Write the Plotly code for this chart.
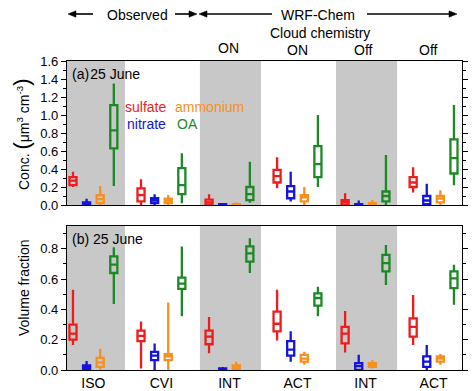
import plotly.graph_objects as go

groups = ["ISO", "CVI", "INT", "ACT", "INT", "ACT"]
species = ["sulfate", "nitrate", "ammonium", "OA"]
colors = {"sulfate": "#ee1c1c", "nitrate": "#1414dc", "ammonium": "#f7901e", "OA": "#1b8a24"}

# each row: [lower whisker, q1, median, q3, upper whisker] for ISO, CVI, INT, ACT, INT, ACT
conc_sulfate = [[0.20, 0.22, 0.27, 0.31, 0.37], [0.0, 0.04, 0.11, 0.185, 0.285], [0.0, 0.0, 0.03, 0.06, 0.12],
                [0.185, 0.25, 0.32, 0.39, 0.53], [0.0, 0.0, 0.03, 0.055, 0.13], [0.14, 0.20, 0.25, 0.31, 0.42]]
conc_nitrate = [[0.0, 0.0, 0.015, 0.03, 0.07], [0.0, 0.02, 0.05, 0.075, 0.12], [0.0, 0.0, 0.005, 0.01, 0.02],
                [0.04, 0.075, 0.15, 0.21, 0.37], [0.0, 0.0, 0.005, 0.01, 0.05], [0.0, 0.01, 0.05, 0.10, 0.235]]
conc_ammonium = [[0.0, 0.02, 0.065, 0.11, 0.21], [0.0, 0.02, 0.05, 0.07, 0.11], [0.0, 0.0, 0.005, 0.01, 0.03],
                 [0.0, 0.04, 0.085, 0.11, 0.20], [0.0, 0.0, 0.01, 0.02, 0.055], [0.0, 0.03, 0.07, 0.10, 0.165]]
conc_OA = [[0.21, 0.63, 0.83, 1.11, 1.35], [0.02, 0.12, 0.22, 0.41, 0.575], [0.025, 0.055, 0.12, 0.20, 0.48],
           [0.20, 0.31, 0.455, 0.655, 1.0], [0.0, 0.04, 0.10, 0.15, 0.555], [0.22, 0.35, 0.52, 0.73, 1.11]]

frac_sulfate = [[0.165, 0.20, 0.24, 0.30, 0.53], [0.01, 0.19, 0.225, 0.26, 0.32], [0.11, 0.17, 0.22, 0.26, 0.35],
                [0.195, 0.255, 0.305, 0.385, 0.53], [0.115, 0.175, 0.24, 0.285, 0.39], [0.165, 0.22, 0.285, 0.34, 0.495]]
frac_nitrate = [[0.0, 0.0, 0.015, 0.03, 0.06], [0.0, 0.065, 0.095, 0.12, 0.175], [0.0, 0.0, 0.005, 0.01, 0.02],
                [0.055, 0.095, 0.135, 0.19, 0.255], [0.0, 0.0, 0.025, 0.045, 0.10], [0.0, 0.02, 0.055, 0.09, 0.165]]
frac_ammonium = [[0.0, 0.02, 0.05, 0.08, 0.14], [0.0, 0.065, 0.09, 0.105, 0.445], [0.0, 0.0, 0.015, 0.03, 0.055],
                 [0.035, 0.055, 0.075, 0.10, 0.12], [0.01, 0.02, 0.035, 0.045, 0.065], [0.035, 0.055, 0.075, 0.09, 0.105]]
frac_OA = [[0.435, 0.64, 0.695, 0.75, 0.81], [0.355, 0.535, 0.57, 0.61, 0.815], [0.64, 0.715, 0.77, 0.815, 0.87],
           [0.355, 0.425, 0.475, 0.505, 0.55], [0.56, 0.65, 0.705, 0.76, 0.825], [0.43, 0.54, 0.605, 0.65, 0.695]]

conc = {"sulfate": conc_sulfate, "nitrate": conc_nitrate, "ammonium": conc_ammonium, "OA": conc_OA}
frac = {"sulfate": frac_sulfate, "nitrate": frac_nitrate, "ammonium": frac_ammonium, "OA": frac_OA}

top_labels = ["ON", "ON", "Off", "Off"]

FONT = "Arial, Liberation Sans, sans-serif"
W, H = 474, 391
L, R, T, B = 67, 12, 61, 21
GAP = 5  # units between groups
XMIN, XMAX = -0.44, 28.59

fig = go.Figure()

for panel, data, xa, ya in [(0, conc, "x", "y"), (1, frac, "x2", "y2")]:
    for si, sp in enumerate(species):
        rows = data[sp]
        xs = [g * GAP + si for g in range(len(groups))]
        fig.add_trace(go.Box(
            x=xs,
            lowerfence=[r[0] for r in rows], q1=[r[1] for r in rows], median=[r[2] for r in rows],
            q3=[r[3] for r in rows], upperfence=[r[4] for r in rows],
            width=0.52, whiskerwidth=0, boxpoints=False,
            line=dict(color=colors[sp], width=2.3), fillcolor="rgba(0,0,0,0)",
            xaxis=xa, yaxis=ya, showlegend=False, hoverinfo="skip",
        ))

shapes = []
for g in (0, 2, 4):
    x0 = max(g * GAP - 0.67, XMIN)
    x1 = g * GAP + 3.82
    for xr, yr in (("x", "y domain"), ("x2", "y2 domain")):
        shapes.append(dict(type="rect", xref=xr, yref=yr, x0=x0, x1=x1, y0=0, y1=1,
                           fillcolor="#c8c8c8", line=dict(width=0), layer="below"))

pw, ph = W - L - R, H - T - B
def px(x):
    return (x - L) / pw
def py(y):
    return (H - B - y) / ph

ann = []
def text(t, x, y, size=14, color="black", xanchor="center", angle=0):
    ann.append(dict(text=t, x=px(x), y=py(y), xref="paper", yref="paper", showarrow=False,
                    xanchor=xanchor, yanchor="middle", textangle=angle,
                    font=dict(family=FONT, size=size, color=color)))

def arrow(xhead, xtail, y):
    d = 1 if xtail > xhead else -1
    hl, hw = 8, 3.2
    shapes.append(dict(type="line", xref="paper", yref="paper",
                       x0=px(xtail), x1=px(xhead + d * (hl - 1)), y0=py(y), y1=py(y),
                       line=dict(color="black", width=1.6)))
    path = "M {:.5f},{:.5f} L {:.5f},{:.5f} L {:.5f},{:.5f} Z".format(
        px(xhead), py(y), px(xhead + d * hl), py(y - hw), px(xhead + d * hl), py(y + hw))
    shapes.append(dict(type="path", xref="paper", yref="paper", path=path,
                       fillcolor="black", line=dict(color="black", width=0.5)))

text("Observed", 137, 15)
text("WRF-Chem", 318, 15)
text("Cloud chemistry", 320, 33)
for t, x, y in zip(top_labels, [228, 297, 363, 428], [48, 50, 50, 50]):
    text(t, x, y)
arrow(68, 93, 14)
arrow(197, 175, 14)
arrow(199, 272, 14)
arrow(457, 367, 14)

text("(a)\u200a25 June", 70, 74, xanchor="left")
text("(b) 25 June", 70, 239, xanchor="left")
text("sulfate", 123, 107, color=colors["sulfate"], xanchor="left")
text("ammonium", 173, 107, color=colors["ammonium"], xanchor="left")
text("nitrate", 125, 124, color=colors["nitrate"], xanchor="left")
text("OA", 175, 124, color=colors["OA"], xanchor="left")

text('Conc. <span style="font-size:22px">(</span>\u03bcm<sup>3</sup> cm<sup>-3</sup><span style="font-size:22px">)</span>',
     21, 134, angle=-90)
text("Volume fraction", 24, 288, angle=-90)

dom_a = [py(205), 1]
dom_b = [0, py(226)]

axis_common = dict(showline=True, linecolor="black", linewidth=1.2, mirror=True, showgrid=False,
                   zeroline=False, automargin=False)
yaxis_common = dict(axis_common, mirror="ticks", ticks="outside", ticklen=5, tickwidth=1.2, tickcolor="black",
                    tickformat=".1f", dtick=0.2, tick0=0,
                    tickfont=dict(family=FONT, size=13, color="black"),
                    minor=dict(dtick=0.1, ticks="outside", ticklen=3, tickwidth=1, tickcolor="black"))

fig.update_layout(
    width=W, height=H, margin=dict(l=L, r=R, t=T, b=B),
    plot_bgcolor="white", paper_bgcolor="white",
    boxmode="overlay",
    shapes=shapes, annotations=ann,
    xaxis=dict(axis_common, domain=[0, 1], range=[XMIN, XMAX], anchor="y", showticklabels=False, ticks=""),
    yaxis=dict(yaxis_common, domain=dom_a, range=[0, 1.6], anchor="x"),
    xaxis2=dict(axis_common, domain=[0, 1], range=[XMIN, XMAX], anchor="y2", ticks="",
                tickvals=[g * GAP + 1.5 for g in range(len(groups))], ticktext=groups,
                tickfont=dict(family=FONT, size=14, color="black")),
    yaxis2=dict(yaxis_common, domain=dom_b, range=[0, 0.95], anchor="x2"),
)

fig.write_html("out.html", config={"displayModeBar": False},
               post_script="document.body.style.margin='0';document.body.style.overflow='hidden';")
